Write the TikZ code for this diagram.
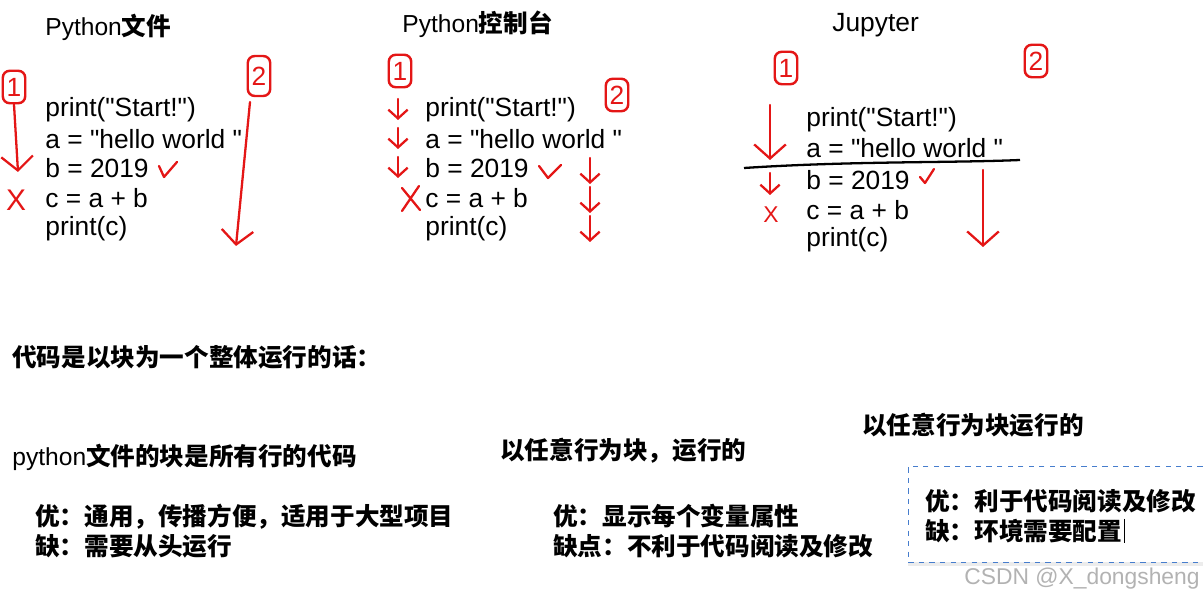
\documentclass[tikz,border=0pt]{standalone}
\usepackage{fontspec}
\newfontfamily\cjk{Noto Sans CJK SC}
\newfontfamily\hand{Liberation Sans}[WordSpace=0.7]
\newfontfamily\wmfont{Liberation Sans}
\usepackage{xcolor}
\definecolor{penRed}{RGB}{228,22,22}
\definecolor{noteBlue}{RGB}{70,125,205}
\usetikzlibrary{arrows.meta, positioning, shadows}

\begin{document}
\begin{tikzpicture}[x=0.02cm, y=-0.02cm,
  code/.style={anchor=west, inner sep=0pt, font=\hand\fontsize{15}{18}\selectfont},
  head/.style={anchor=west, inner sep=0pt, font=\cjk\bfseries\fontsize{14}{16}\selectfont},
  numbox/.style={draw=penRed, line width=1.4pt, rounded corners=4pt, text=penRed,
                 minimum width=0.45cm, minimum height=0.65cm, inner sep=1pt,
                 font=\hand\fontsize{15}{15}\selectfont},
  cross/.style={text=penRed, inner sep=0pt, font=\hand\fontsize{17}{17}\selectfont},
  rarrow/.style={penRed, line width=1.3pt, line cap=round, -{Straight Barb[length=8pt, width=18pt]}},
  sarrow/.style={penRed, line width=1.3pt, line cap=round, -{Straight Barb[length=5pt, width=11pt]}},
  pen/.style={penRed, line width=1.3pt, line cap=round, line join=round},
  notebox/.style={draw=noteBlue, dashed, fill=white, anchor=north west,
                  minimum width=6.2cm, minimum height=1.92cm,
                  drop shadow={shadow xshift=0pt, shadow yshift=-2pt, opacity=0.15}},
]
  \useasboundingbox (0,0) rectangle (1203,597);

  % Column 1: Python file
  \node[head] (t1) at (45,27) {{\hand\mdseries Python}文件};
  \node[numbox] (n1a) at (14,87) {1};
  \node[numbox, minimum height=0.8cm] (n2a) at (259,76) {2};
  \node[code] (a1) at (45,110) {print("Start!")};
  \node[code] (a2) at (45,139) {a = "hello world "};
  \node[code] (a3) at (45,168) {b = 2019};
  \node[code] (a4) at (45,198) {c = a + b};
  \node[code] (a5) at (45,229) {print(c)};
  \coordinate (e1a) at (18,172);
  \draw[rarrow] (n1a.south) -- (e1a);
  \node[cross] (x1) at (16,200) {X};
  \draw[pen] (159,166) -- (164,177) -- (177,162);
  \coordinate (s2a) at (250,102);
  \coordinate (e2a) at (236,246);
  \draw[rarrow] (s2a) -- (e2a);

  % Column 2: Python console
  \node[head] (t2) at (402,24) {{\hand\mdseries Python}控制台};
  \node[numbox] (n1b) at (400,71) {1};
  \node[numbox] (n2b) at (617,95) {2};
  \node[code] (b1) at (425,110) {print("Start!")};
  \node[code] (b2) at (425,139) {a = "hello world "};
  \node[code] (b3) at (425,168) {b = 2019};
  \node[code] (b4) at (425,198) {c = a + b};
  \node[code] (b5) at (425,229) {print(c)};
  \foreach \y in {110,139,168}
    \draw[sarrow] (398,\y-11) -- (398,\y+10);
  \draw[pen] (402,188) -- (420,210) (419,186) -- (402,211);
  \draw[pen] (539,166) -- (548,178) -- (561,165);
  \foreach \y in {172,201,230}
    \draw[sarrow] (590,\y-14) -- (590,\y+12);

  % Column 3: Jupyter
  \node[code] (t3) at (832,25) {Jupyter};
  \node[numbox] (n1c) at (786,68) {1};
  \node[numbox] (n2c) at (1036,61) {2};
  \node[code] (c1) at (806,120) {print("Start!")};
  \node[code] (c2) at (806,148) {a = "hello world "};
  \node[code] (c3) at (806,180) {b = 2019};
  \node[code] (c4) at (806,210) {c = a + b};
  \node[code] (c5) at (806,240) {print(c)};
  \coordinate (s1c) at (770,105);
  \coordinate (e1c) at (770,160);
  \draw[rarrow] (s1c) -- (e1c);
  \draw[line width=1.3pt] (744,168) .. controls (850,161) and (950,163) .. (1020,160);
  \draw[sarrow] (770,173) -- (770,195);
  \node[cross, font=\hand\fontsize{13}{13}\selectfont] (x3) at (771,215) {X};
  \draw[pen] (920,177) -- (925,183) -- (934,169);
  \coordinate (s2c) at (983,170);
  \coordinate (e2c) at (983,247);
  \draw[rarrow] (s2c) -- (e2c);

  % Notes below
  \node[head] (blk) at (12,357) {代码是以块为一个整体运行的话：};
  \node[head] (file) at (12,457) {{\hand\mdseries python}文件的块是所有行的代码};
  \node[head] (filep) at (35,517) {优：通用，传播方便，适用于大型项目};
  \node[head] (filem) at (35,546) {缺：需要从头运行};
  \node[head] (cons) at (500,451) {以任意行为块，运行的};
  \node[head] (consp) at (553,516) {优：显示每个变量属性};
  \node[head] (consm) at (553,546) {缺点：不利于代码阅读及修改};
  \node[head] (jup) at (862,425) {以任意行为块运行的};
  \node[notebox] (note) at (908,466) {};
  \node[head] (jupp) at (925,501) {优：利于代码阅读及修改};
  \node[head] (jupm) at (925,531) {缺：环境需要配置};
  \draw[thin] ([xshift=1pt]jupm.north east) -- ([xshift=1pt]jupm.south east);
  \node[anchor=east, inner sep=0pt, text=black!30,
        font=\wmfont\fontsize{13}{13}\selectfont] (wm) at (1200,579) {CSDN @X\_dongsheng};
\end{tikzpicture}
\end{document}
